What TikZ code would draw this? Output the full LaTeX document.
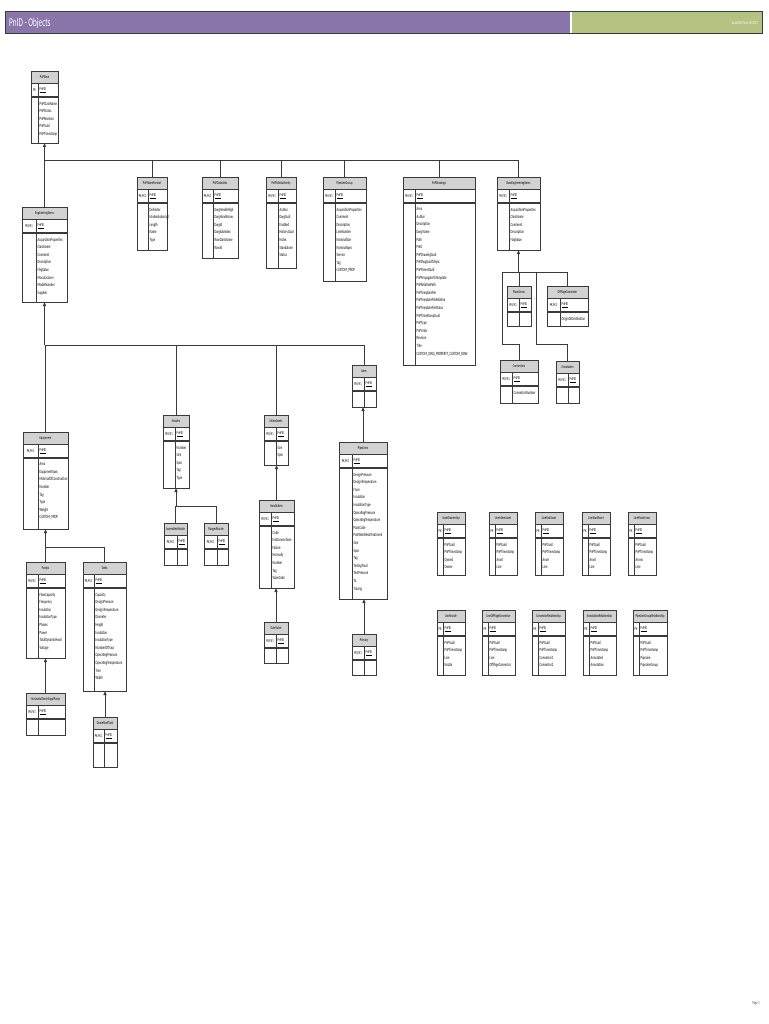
\documentclass[tikz,border=0pt]{standalone}
\usepackage{fontspec}
\setmainfont{Carlito}[FakeStretch=0.6]
\usetikzlibrary{calc,arrows.meta}
\definecolor{hdrpurple}{HTML}{8A76AA}
\definecolor{hdrgreen}{HTML}{B4C282}
\definecolor{eline}{HTML}{3A3A3A}
\definecolor{tfill}{HTML}{D2D2D2}
\tikzset{
 ebox/.style={draw=none, inner sep=0pt, outer sep=0pt},
 eln/.style={draw=eline, line width=0.7pt},
 ttl/.style={font=\fontsize{4.4}{5}\selectfont, inner sep=0pt},
 atx/.style={font=\fontsize{4.8}{7.6}\selectfont, inner sep=0pt, align=left, anchor=north west},
 conn/.style={draw=eline, line width=0.8pt},
 tip/.style={conn, -{Triangle[length=4pt,width=3pt]}},
}
\newcommand{\ent}[9]{%
  \node[ebox, minimum width=#4pt, minimum height=#5pt, anchor=north west] (#1) at (#2,#3) {};
  \fill[tfill] (#1.north west) rectangle ($(#1.north east)+(0,12)$);
  \draw[eln] ($(#1.north west)+(0,12)$) -- ($(#1.north east)+(0,12)$);
  \draw[eln, line width=1.1pt] ($(#1.north west)+(0,26)$) -- ($(#1.north east)+(0,26)$);
  \draw[eln] ($(#1.north west)+(#6,12)$) -- ($(#1.south west)+(#6,0)$);
  \draw[eln] (#1.north west) rectangle (#1.south east);
  \node[ttl] (#1-t) at ($(#1.north)+(0,6)$) {#7};
  \node[ttl] (#1-k) at ($(#1.north west)+(#6/2,19)$) {#8};
  \node[ttl, anchor=west] (#1-p) at ($(#1.north west)+(#6+1.5,19)$) {\underline{PnPID}};
  \node[atx] (#1-a) at ($(#1.north west)+(#6+1.5,30.5)$) {#9};
}
\begin{document}
\begin{tikzpicture}[x=1pt,y=-1pt]
\useasboundingbox (0,0) rectangle (768,1024);
\fill[white] (0,0) rectangle (768,1024);
% header
\fill[hdrpurple] (5,12) rectangle (570,34);
\fill[hdrgreen] (572,12) rectangle (762,34);
\draw[eline, line width=1pt] (5,12) rectangle (762,34);
\draw[white, line width=1.2pt] (571,12.5) -- (571,33.5);
\node[anchor=west, text=white, font=\fontsize{12}{12}\selectfont, inner sep=0pt] (title) at (9,23) {PnID - Objects};
\node[anchor=east, text=white, font=\fontsize{4.5}{5}\selectfont, inner sep=0pt] (app) at (758,23) {AutoCAD Plant 3D 2013};
\node[anchor=east, text=black!70, font=\fontsize{4.5}{5}\selectfont, inner sep=0pt] (page) at (760,1003) {Page 1};

% entities
\ent{pnpbase}{31}{71}{27}{72}{7}{PnPBase}{PK}{PnPClassName\\PnPStatus\\PnPRevision\\PnPGuid\\PnPTimestamp}
\ent{engitems}{22}{207}{45}{95}{14}{EngineeringItems}{PK,FK1}{AcquisitionProperties\\ClassName\\Comment\\Description\\FlagValue\\Manufacturer\\ModelNumber\\Supplier}
\ent{nameformat}{137}{177}{30}{73}{11}{PnPNameFormat}{PK,FK1}{Delimiter\\IsIndexSubscript\\Length\\Name\\Type}
\ent{datalinks}{202}{177}{36}{81}{11}{PnPDataLinks}{PK,FK1}{DwgHandleHigh\\DwgHandleLow\\DwgId\\DwgSubIndex\\RowClassName\\RowId}
\ent{roleauth}{266}{177}{30}{91}{12}{PnPRoleAuthority}{PK,FK1}{Author\\DwgGuid\\Enabled\\HistoryGuid\\Notes\\Standalone\\Status}
\ent{plgroup}{323}{177}{43}{104}{12}{PipeLineGroup}{PK,FK1}{AcquisitionProperties\\Comment\\Description\\LineNumber\\NominalSize\\NominalSpec\\Service\\Tag\\CUSTOM\_PROP}
\ent{drawings}{403}{177}{72}{188}{12}{PnPDrawings}{PK,FK1}{Area\\Author\\Description\\Dwg Name\\Path\\PnID\\PnPDrawingGuid\\PnPDwgGuidToSync\\PnPParentGuid\\PnPPropagateToTemplate\\PnPRelativePath\\PnPTemplateFile\\PnPTemplateFileRelative\\PnPTemplateFileStatus\\PnPTimeStampGuid\\PnPType\\PnPUnits\\Revision\\Title\\CUSTOM\_DWG\_PROPERTY\_CUSTOM\_ROW}
\ent{baseitems}{497}{177}{43}{73}{12}{BaseEngineeringItems}{PK,FK1}{AcquisitionProperties\\ClassName\\Comment\\Description\\FlagValue}
\ent{flowarrow}{507}{286}{24}{40}{12}{FlowArrow}{PK,FK1}{}
\ent{offpage}{547}{286}{41}{40}{13}{OffPageConnector}{PK,FK1}{OriginOrDestination}
\ent{connectors}{500}{360}{38}{43}{12}{Connectors}{PK,FK1}{ConnectorNumber}
\ent{annotation}{556}{361}{23}{42}{12}{Annotation}{PK,FK1}{}
\ent{equipment}{23}{432}{45}{97}{15}{Equipment}{PK,FK1}{Area\\EquipmentSpec\\MaterialOfConstruction\\Number\\Tag\\Type\\Weight\\CUSTOM\_PROP}
\ent{pumps}{26}{562}{39}{96}{12}{Pumps}{PK,FK1}{FlowCapacity\\Frequency\\Insulation\\InsulationType\\Phases\\Power\\TotalDynamicHead\\Voltage}
\ent{tanks}{83}{562}{43}{129}{11}{Tanks}{PK,FK1}{Capacity\\DesignPressure\\DesignTemperature\\Diameter\\Height\\Insulation\\InsulationType\\NumberOfTrays\\OperatingPressure\\OperatingTemperature\\Trim\\Width}
\ent{hcpump}{26}{693}{39}{42}{12}{HorizontalCentrifugalPump}{PK,FK1}{}
\ent{domeroof}{93}{717}{24}{50}{11}{DomeRoofTank}{PK,FK1}{}
\ent{nozzles}{163}{415}{26}{73}{12}{Nozzles}{PK,FK1}{Number\\Size\\Spec\\Tag\\Type}
\ent{asmnozzle}{164}{523}{23}{42}{13}{AssembledNozzle}{PK,FK1}{}
\ent{flgnozzle}{204}{523}{24}{42}{13}{FlangedNozzle}{PK,FK1}{}
\ent{inline}{264}{415}{24}{50}{12}{InlineAssets}{PK,FK1}{Size\\Spec}
\ent{handvalves}{259}{500}{35}{88}{12}{HandValves}{PK,FK1}{Code\\EndConnections\\Failure\\Normally\\Number\\Tag\\ValveCode}
\ent{gatevalve}{264}{622}{24}{41}{12}{GateValve}{PK,FK1}{}
\ent{lines}{352}{365}{24}{42}{12}{Lines}{PK,FK1}{}
\ent{pipelines}{339}{442}{48}{157}{13}{PipeLines}{PK,FK1}{DesignPressure\\DesignTemperature\\From\\Insulation\\InsulationType\\OperatingPressure\\OperatingTemperature\\PaintCode\\PostWeldHeatTreatment\\Size\\Spec\\Tag\\TestingFluid\\TestPressure\\To\\Tracing}
\ent{primary}{352}{634}{24}{41}{12}{Primary}{PK,FK1}{}

% relationship tables
\ent{r1}{437}{512}{28}{63}{6}{AssetOwnership}{PK}{PnPGuid\\PnPTimestamp\\Owned\\Owner}
\ent{r2}{489}{512}{28}{63}{6}{LineInlineAsset}{PK}{PnPGuid\\PnPTimestamp\\Asset\\Line}
\ent{r3}{535}{512}{28}{63}{6}{LineEndAsset}{PK}{PnPGuid\\PnPTimestamp\\Asset\\Line}
\ent{r4}{582}{512}{28}{63}{6}{LineStartAsset}{PK}{PnPGuid\\PnPTimestamp\\Asset\\Line}
\ent{r5}{628}{512}{28}{63}{6}{LineFlowArrow}{PK}{PnPGuid\\PnPTimestamp\\Arrow\\Line}
\ent{r6}{437}{610}{28}{65}{6}{LineNozzle}{PK}{PnPGuid\\PnPTimestamp\\Line\\Nozzle}
\ent{r7}{482}{610}{33}{65}{6}{LineOffPageConnector}{PK}{PnPGuid\\PnPTimestamp\\Line\\OffPageConnector}
\ent{r8}{532}{610}{33}{65}{6}{ConnectorRelationship}{PK}{PnPGuid\\PnPTimestamp\\Connector1\\Connector2}
\ent{r9}{583}{610}{33}{65}{6}{AnnotationRelationship}{PK}{PnPGuid\\PnPTimestamp\\Annotated\\Annotation}
\ent{r10}{633}{610}{34}{65}{6}{PipeLineGroupRelationship}{PK}{PnPGuid\\PnPTimestamp\\PipeLine\\PipeLineGroup}

% connectors
\coordinate (bus1) at (0,160);
\foreach \c in {engitems,nameformat,datalinks,roleauth,plgroup,drawings,baseitems}
  \draw[conn] (\c.north) |- (pnpbase.south |- bus1);
\draw[tip] (pnpbase.south |- bus1) -- (pnpbase.south);

\coordinate (bus2) at (0,345);
\foreach \c in {equipment,nozzles,inline,lines}
  \draw[conn] (\c.north) |- (engitems.south |- bus2);
\draw[tip] (engitems.south |- bus2) -- (engitems.south);

\coordinate (bus3) at (0,547);
\foreach \c in {pumps,tanks}
  \draw[conn] (\c.north) |- (equipment.south |- bus3);
\draw[tip] (equipment.south |- bus3) -- (equipment.south);

\coordinate (bus4) at (0,506);
\foreach \c in {asmnozzle,flgnozzle}
  \draw[conn] (\c.north) |- (nozzles.south |- bus4);
\draw[tip] (nozzles.south |- bus4) -- (nozzles.south);

\draw[tip] (hcpump.north) -- (hcpump.north |- pumps.south);
\draw[tip] (domeroof.north) -- (domeroof.north |- tanks.south);
\draw[tip] (handvalves.north) -- (handvalves.north |- inline.south);
\draw[tip] (gatevalve.north) -- (gatevalve.north |- handvalves.south);
\draw[tip] (pipelines.north) -- (pipelines.north |- lines.south);
\draw[tip] (primary.north) -- (primary.north |- pipelines.south);

\coordinate (bus5) at (0,272);
\coordinate (cjog) at (502,344);
\coordinate (ajog) at (536,344);
\draw[conn] (flowarrow.north) |- (baseitems.south |- bus5);
\draw[conn] (offpage.north) |- (baseitems.south |- bus5);
\draw[conn] (connectors.north) |- (cjog) -- (cjog |- bus5) -- (baseitems.south |- bus5);
\draw[conn] (annotation.north) |- (ajog) -- (ajog |- bus5);
\draw[tip] (baseitems.south |- bus5) -- (baseitems.south);
\end{tikzpicture}
\end{document}
